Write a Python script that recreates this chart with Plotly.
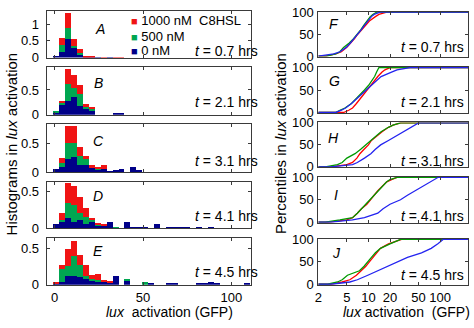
import math
import plotly.graph_objects as go

W, H = 474, 328

# ---------------- data ----------------
GFP_BINS = [0.56, 3.93, 7.30, 10.67, 14.04, 17.41, 20.78, 24.15, 27.52, 30.89, 34.26,
            37.63, 41.00, 44.37, 47.74, 51.11, 54.48, 57.85, 61.22, 64.59, 67.96, 71.33,
            74.70, 78.07, 81.44, 84.81, 88.18, 91.55, 94.92, 98.29, 101.66, 105.03, 108.40]

# stacked segment heights (blue bottom, green middle, red top)
A_blue  = [0.05, 0.18, 0.56, 0.28, 0.09, 0.02, 0.02, 0.01, 0, 0.01] + [0] * 23
A_green = [0, 0.21, 0.34, 0.07, 0.06, 0, 0, 0, 0, 0] + [0] * 23
A_red   = [0, 0.21, 0.44, 0.21, 0.10, 0.04, 0.01, 0, 0.01, 0, 0.01, 0.01] + [0] * 21

B_blue  = [0.05, 0.19, 0.28, 0.35, 0.17, 0.11, 0.08, 0, 0, 0, 0.02, 0.03] + [0] * 21
B_green = [0.01, 0.05, 0.34, 0.18, 0.25, 0.05, 0.03, 0, 0, 0, 0, 0] + [0] * 21
B_red   = [0, 0.04, 0.30, 0.27, 0.18, 0.06, 0.05, 0, 0, 0, 0, 0] + [0] * 21

C_blue  = [0.055, 0.08, 0.22, 0.25, 0.11, 0.11, 0.07, 0.04, 0.055, 0.01, 0.02, 0.05, 0, 0.08, 0.02] + [0] * 18
C_green = [0, 0.07, 0.28, 0.25, 0.17, 0.11, 0, 0.015, 0, 0, 0, 0, 0, 0, 0] + [0] * 18
C_red   = [0, 0.09, 0.29, 0.29, 0.15, 0.06, 0.04, 0.025, 0.055, 0, 0, 0, 0, 0, 0] + [0] * 18

D_blue  = [0.06, 0.095, 0.15, 0.095, 0.12, 0.06, 0.095, 0.05, 0.04, 0.086, 0.01, 0, 0.087,
           0.02, 0.02, 0.02, 0, 0.07, 0, 0.03, 0.03, 0.03, 0.03, 0, 0.03, 0, 0.02] + [0] * 6
D_green = [0, 0.03, 0.20, 0.225, 0.10, 0.10, 0.025, 0.01, 0, 0, 0.02] + [0] * 22
D_red   = [0, 0.095, 0.27, 0.26, 0.21, 0.13, 0.02, 0.01, 0.02] + [0] * 24

E_blue  = [0.02, 0.04, 0.115, 0.115, 0.106, 0.084, 0.05, 0.04, 0.04, 0.03, 0.115, 0, 0.06,
           0, 0, 0, 0.015, 0, 0, 0.02, 0.02, 0, 0, 0, 0.02, 0.02, 0.035, 0.02, 0, 0, 0, 0, 0.02]
E_green = [0, 0.185, 0.145, 0.285, 0.174, 0.036, 0.034, 0.02, 0.01, 0, 0, 0, 0.02, 0, 0, 0.04] + [0] * 17
E_red   = [0.01, 0.055, 0.24, 0.215, 0.14, 0.15, 0.046, 0.09, 0.01, 0.02] + [0] * 23

HIST_PANELS = ["A", "B", "C", "D", "E"]
HIST_DATA = [(A_blue, A_green, A_red), (B_blue, B_green, B_red), (C_blue, C_green, C_red),
             (D_blue, D_green, D_red), (E_blue, E_green, E_red)]
HIST_YMAX = [1.40, 0.96, 0.83, 0.64, 0.65]
HIST_YTICKS = [[0, 0.5, 1], [0, 0.5], [0, 0.5], [0, 0.5], [0, 0.5]]

TIMES = ["0.7", "2.1", "3.1", "4.1", "4.5"]
CONDITIONS = ["1000 nM  C8HSL", "500 nM", "0 nM"]

# percentile curves: GFP value at which each percentile is reached
PERCENTILES = [0, 5, 10, 20, 30, 40, 50, 60, 70, 80, 90, 95, 100]
F_blue  = [2.0, 3.3, 4.0, 4.9, 5.6, 6.3, 7.2, 7.9, 8.8, 9.8, 11.0, 12.0, 14.5]
F_green = [2.6, 3.5, 4.0, 4.5, 5.4, 6.2, 7.0, 7.8, 8.6, 9.5, 10.6, 11.5, 13.0]
F_red   = [2.5, 3.5, 4.2, 5.0, 5.7, 6.4, 7.1, 8.0, 9.0, 10.3, 12.5, 14.0, 18.0]
G_blue  = [3.5, 4.2, 4.8, 5.8, 6.8, 8.0, 9.3, 11.0, 13.0, 15.0, 21.0, 25.0, 38.0]
G_green = [3.5, 4.0, 4.7, 5.8, 6.7, 7.8, 8.8, 10.0, 11.0, 12.2, 13.0, 13.5, 14.0]
G_red   = [4.5, 5.3, 6.0, 6.8, 7.6, 8.5, 9.4, 10.6, 12.0, 13.5, 15.5, 17.0, 20.0]
H_blue  = [3.0, 6.0, 7.0, 8.8, 10.8, 12.5, 14.8, 19.0, 24.0, 31.0, 39.0, 43.0, 50.0]
H_green = [2.5, 3.7, 4.3, 5.0, 6.5, 7.8, 9.2, 10.8, 12.5, 15.0, 19.0, 22.0, 28.0]
H_red   = [3.0, 5.0, 6.0, 6.9, 7.6, 8.7, 10.0, 11.0, 13.0, 15.5, 19.0, 22.0, 28.0]
I_blue  = [3.0, 6.0, 8.8, 13.5, 16.0, 20.0, 28.0, 35.0, 45.0, 58.0, 72.0, 82.0, 94.0]
I_green = [2.5, 4.0, 6.0, 7.0, 8.0, 9.3, 10.6, 12.0, 13.5, 15.5, 18.0, 20.0, 25.0]
I_red   = [2.8, 5.0, 6.0, 7.0, 8.0, 9.5, 10.8, 12.0, 13.5, 15.5, 18.0, 21.0, 25.0]
J_blue  = [3.0, 5.5, 7.0, 9.8, 13.5, 18.5, 25.0, 35.0, 55.0, 75.0, 93.0, 100.0, 111.0]
J_green = [2.7, 3.7, 4.3, 5.1, 7.5, 8.7, 9.7, 11.0, 12.5, 14.7, 20.0, 24.0, 28.0]
J_red   = [3.0, 4.3, 5.5, 6.8, 8.0, 9.2, 10.3, 11.5, 13.0, 14.7, 19.0, 24.0, 29.0]

CDF_PANELS = ["F", "G", "H", "I", "J"]
CDF_DATA = [(F_red, F_green, F_blue), (G_red, G_green, G_blue), (H_red, H_green, H_blue),
            (I_red, I_green, I_blue), (J_red, J_green, J_blue)]
CDF_XMIN, CDF_XMAX = 2, 245
CDF_TICKS = [2, 5, 10, 20, 50, 100]

# ---------------- styles ----------------
FONT = "Liberation Sans, Arial, sans-serif"
HIST_COLORS = ["#000088", "#00A651", "#F01414"]  # blue, green, red
CDF_COLORS = ["#FF0000", "#009A00", "#2323F0"]     # red, green, blue
LINE = "#3a3a3a"

# pixel layout (top, bottom)
LEFT_X = (43, 249)
RIGHT_X = (317, 468)
LEFT_Y = [(4, 53), (63, 113), (123, 173), (183, 232), (242, 291)]
RIGHT_Y = [(5, 52), (63, 111), (121, 168), (178, 226), (243, 291)]


def px(x):
    return x / W


def py(y):
    return 1 - y / H


fig = go.Figure()
layout = dict(
    width=W, height=H, margin=dict(l=0, r=0, t=0, b=0),
    paper_bgcolor="white", plot_bgcolor="white",
    barmode="stack", bargap=0, showlegend=False,
    font=dict(family=FONT, size=13, color="black"),
)

annotations = []

for i in range(5):
    n = i + 1
    xa, ya = f"x{n}" if n > 1 else "x", f"y{n}" if n > 1 else "y"
    blue, green, red = HIST_DATA[i]
    for vals, col in zip((blue, green, red), HIST_COLORS):
        fig.add_trace(go.Bar(x=GFP_BINS, y=vals, width=3.37, marker=dict(color=col, line=dict(width=0)),
                             xaxis=xa, yaxis=ya))
    top, bot = LEFT_Y[i]
    layout[f"xaxis{n}"] = dict(
        domain=[px(LEFT_X[0]), px(LEFT_X[1])], range=[-4.5, 111], anchor=ya,
        tickvals=[0, 50, 100], ticks="inside", ticklen=3, tickcolor=LINE,
        showline=True, linecolor=LINE, linewidth=1, mirror="ticks",
        showgrid=False, zeroline=False, showticklabels=(i == 4),
        tickfont=dict(size=13), ticklabelstandoff=1,
    )
    layout[f"yaxis{n}"] = dict(
        domain=[py(bot), py(top)], range=[0, HIST_YMAX[i]], anchor=xa,
        tickvals=HIST_YTICKS[i], ticks="inside", ticklen=3, tickcolor=LINE,
        showline=True, linecolor=LINE, linewidth=1, mirror="ticks",
        showgrid=False, zeroline=False, tickfont=dict(size=13), ticklabelstandoff=4,
    )

for i in range(5):
    n = i + 6
    xa, ya = f"x{n}", f"y{n}"
    for vals, col in zip(CDF_DATA[i], CDF_COLORS):
        xs = [CDF_XMIN] + vals + [CDF_XMAX]
        ys = [PERCENTILES[0]] + PERCENTILES + [PERCENTILES[-1]]
        fig.add_trace(go.Scatter(x=xs, y=ys, mode="lines", line=dict(color=col, width=1.3),
                                 xaxis=xa, yaxis=ya, hoverinfo="skip"))
    top, bot = RIGHT_Y[i]
    layout[f"xaxis{n}"] = dict(
        domain=[px(RIGHT_X[0]), px(RIGHT_X[1])], type="log",
        range=[math.log10(CDF_XMIN), math.log10(CDF_XMAX)], anchor=ya,
        tickvals=CDF_TICKS, ticktext=[str(t) for t in CDF_TICKS],
        ticks="inside", ticklen=3, tickcolor=LINE,
        showline=True, linecolor=LINE, linewidth=1, mirror="ticks",
        showgrid=False, zeroline=False, showticklabels=(i == 4),
        tickfont=dict(size=13), ticklabelstandoff=1,
    )
    layout[f"yaxis{n}"] = dict(
        domain=[py(bot), py(top)], range=[-1, 101], anchor=xa,
        tickvals=[0, 50, 100], ticks="inside", ticklen=3, tickcolor=LINE,
        showline=True, linecolor=LINE, linewidth=1, mirror="ticks",
        showgrid=False, zeroline=False, tickfont=dict(size=13), ticklabelstandoff=1,
    )


def ann(text, x, y, size=13, xanchor="center", yanchor="middle", angle=0, color="black"):
    annotations.append(dict(text=text, x=px(x), y=py(y), xref="paper", yref="paper",
                            xanchor=xanchor, yanchor=yanchor, showarrow=False, textangle=angle,
                            font=dict(size=size, color=color, family=FONT)))


# panel letters
for lab, (x, y) in zip(HIST_PANELS, [(97, 23), (95, 80), (95, 140), (95, 198), (95, 256)]):
    ann(f"<i>{lab}</i>", x, y, size=14)
for lab, (x, y) in zip(CDF_PANELS, [(333, 18), (333, 78), (332, 137), (335, 197), (335, 258)]):
    ann(f"<i>{lab}</i>", x, y, size=14)

# time labels
for t, y in zip(TIMES, [46, 100, 161.5, 219, 278]):
    ann(f"<i>t</i> = {t} hrs", 191, y, size=14, xanchor="left")
for t, y in zip(TIMES, [41.5, 100, 161.5, 219, 281]):
    ann(f"<i>t</i> = {t} hrs", 398, y, size=14, xanchor="left")

# legend
for cond, col, y in zip(CONDITIONS, HIST_COLORS[::-1], [14, 30.5, 46]):
    ann(f'<span style="color:{col};font-size:11px">\u25A0</span> ' + cond.replace("  ", "\u00a0 "), 126, y,
        size=13, xanchor="left")

# axis titles
ann("Histograms in <i>lux</i> activation", 8, 143, size=15, angle=-90)
ann("Percentiles in <i>lux</i> activation", 279, 143, size=15, angle=-90)
ann("<i>lux</i>\u00a0 activation (GFP)", 167, 320, size=14)
ann("<i>lux</i> activation \u00a0(GFP)", 406, 320, size=14)

layout["annotations"] = annotations
fig.update_layout(**layout)
fig.write_html("out.html")
